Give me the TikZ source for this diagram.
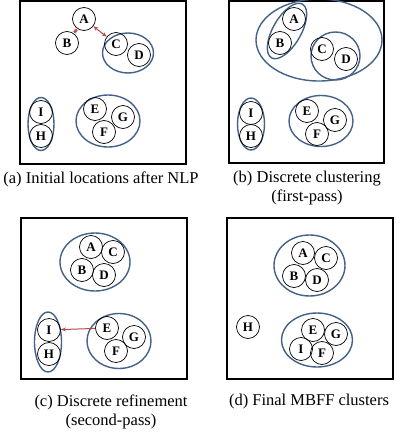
\documentclass[tikz,border=0pt]{standalone}
\usepackage{fontspec}
\setmainfont{Liberation Serif}
\usetikzlibrary{shapes.geometric,arrows.meta}
\definecolor{clblue}{HTML}{44618A}
\definecolor{arred}{HTML}{B84C4C}
\tikzset{
  ff/.style={circle,draw=black,line width=0.7pt,minimum size=23pt,inner sep=0pt,font=\fontsize{13}{13}\selectfont\bfseries},
  cluster/.style={ellipse,draw=clblue,line width=1.4pt,inner sep=0pt},
  panel/.style={draw=black,line width=1.5pt},
  mv/.style={draw=arred,line width=1pt,-{Stealth[length=5pt,width=4pt]}},
  mvb/.style={draw=arred,line width=1pt,{Stealth[length=5pt,width=4pt]}-{Stealth[length=5pt,width=4pt]}},
  captext/.style={font=\fontsize{16.5}{19}\selectfont,align=center}
}
\begin{document}
\begin{tikzpicture}[x=1pt,y=-1pt]
\path[fill=white,use as bounding box] (0,0) rectangle (401,442);
% panel boxes
\node[panel,minimum width=166pt,minimum height=163pt,inner sep=0pt] (pa) at (103,82.5) {};
\node[panel,minimum width=155pt,minimum height=162pt,inner sep=0pt] (pb) at (306.5,82) {};
\node[panel,minimum width=166pt,minimum height=161pt,inner sep=0pt] (pc) at (104,298.5) {};
\node[panel,minimum width=166pt,minimum height=161pt,inner sep=0pt] (pd) at (310,298.5) {};
% ---------- (a)
\node[cluster,minimum width=51pt,minimum height=40pt] (aCD) at (128,53) {};
\node[cluster,minimum width=26pt,minimum height=53pt] (aIH) at (41,124) {};
\node[cluster,minimum width=64pt,minimum height=52pt] (aEFG) at (108,121) {};
\node[ff] (aA) at (84,19) {A};
\node[ff] (aB) at (67,43) {B};
\node[ff] (aC) at (116,44) {C};
\node[ff] (aD) at (139,55) {D};
\node[ff] (aI) at (41,112) {I};
\node[ff] (aH) at (41,136) {H};
\node[ff] (aE) at (95,109) {E};
\node[ff] (aG) at (123,117) {G};
\node[ff] (aF) at (104,132) {F};
\draw[mvb] (aA) -- (aB);
\draw[mvb] (aA) -- (aC);
\node[captext] (capa) at (101,179) {(a) Initial locations after NLP};
% ---------- (b)
\node[cluster,minimum width=126pt,minimum height=82pt] (bBig) at (319,40) {};
\node[cluster,minimum width=62pt,minimum height=28pt,rotate=60] (bAB) at (287,31) {};
\node[cluster,minimum width=49pt,minimum height=48pt] (bCD) at (335.5,56) {};
\node[cluster,minimum width=27pt,minimum height=52pt] (bIH) at (251,124) {};
\node[cluster,minimum width=64pt,minimum height=51pt] (bEFG) at (321,121) {};
\node[ff] (bA) at (294,19) {A};
\node[ff] (bB) at (280,43) {B};
\node[ff] (bC) at (322,49) {C};
\node[ff] (bD) at (346,59) {D};
\node[ff] (bI) at (251,113) {I};
\node[ff] (bH) at (251,136) {H};
\node[ff] (bE) at (307,111) {E};
\node[ff] (bG) at (335,120) {G};
\node[ff] (bF) at (317,134) {F};
\node[captext] (capb) at (307,188) {(b) Discrete clustering\\(first-pass)};
% ---------- (c)
\node[cluster,minimum width=70pt,minimum height=58pt] (cABCD) at (95,262) {};
\node[cluster,minimum width=27pt,minimum height=60pt] (cIH) at (48,342) {};
\node[cluster,minimum width=64pt,minimum height=55pt] (cEFG) at (119,341) {};
\node[ff] (cA) at (91,247) {A};
\node[ff] (cC) at (113,252) {C};
\node[ff] (cB) at (82,270) {B};
\node[ff] (cD) at (104,275) {D};
\node[ff] (cI) at (49,330) {I};
\node[ff] (cH) at (49,354) {H};
\node[ff] (cE) at (107,328) {E};
\node[ff] (cG) at (134,337) {G};
\node[ff] (cF) at (116,351) {F};
\draw[mv] (cE) -- (cI);
\node[captext] (capc) at (111,412) {(c) Discrete refinement\\(second-pass)};
% ---------- (d)
\node[cluster,minimum width=71pt,minimum height=61pt] (dABCD) at (309.5,265.5) {};
\node[cluster,minimum width=71pt,minimum height=54pt] (dEFGI) at (317,340) {};
\node[ff] (dA) at (303,253) {A};
\node[ff] (dC) at (326,258) {C};
\node[ff] (dB) at (294,276) {B};
\node[ff] (dD) at (317,280) {D};
\node[ff] (dH) at (248,327) {H};
\node[ff] (dE) at (313,330) {E};
\node[ff] (dG) at (336,334) {G};
\node[ff] (dI) at (301,349) {I};
\node[ff] (dF) at (322,353) {F};
\node[captext] (capd) at (309,402) {(d) Final MBFF clusters};
\end{tikzpicture}
\end{document}
